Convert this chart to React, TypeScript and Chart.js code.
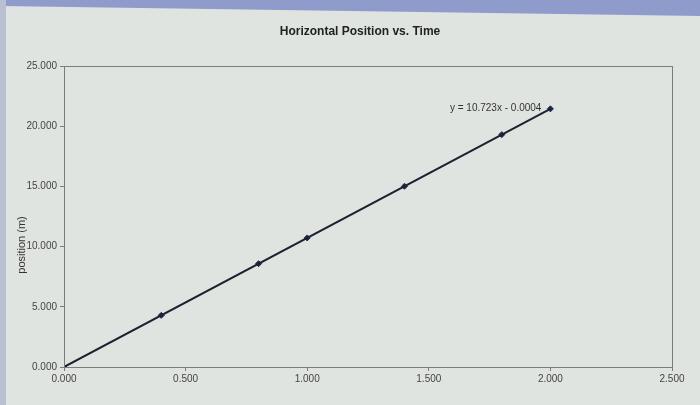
import React, { useEffect, useRef } from "react";
import { Chart, registerables } from "chart.js";

Chart.register(...registerables);

const timeValues = [0, 0.4, 0.8, 1.0, 1.4, 1.8, 2.0];
const positionValues = [0, 4.29, 8.58, 10.72, 15.01, 19.3, 21.44];
const trendSlope = 10.723;
const trendIntercept = -0.0004;
const trendLabel = "y = 10.723x - 0.0004";
const chartTitle = "Horizontal Position vs. Time";
const yAxisTitle = "position (m)";

const FONT = "'Liberation Sans', Arial, sans-serif";

const bgPlugin = {
  id: "bgPlugin",
  beforeDraw(chart: any) {
    const { ctx, width, height } = chart;
    ctx.save();
    ctx.fillStyle = "#e0e4e1";
    ctx.fillRect(0, 0, width, height);
    ctx.fillStyle = "#8f9ccb";
    ctx.beginPath();
    ctx.moveTo(0, 0);
    ctx.lineTo(width, 0);
    ctx.lineTo(width, 16);
    ctx.lineTo(0, 6);
    ctx.closePath();
    ctx.fill();
    ctx.fillStyle = "#b9c0d2";
    ctx.fillRect(0, 0, 6, height);
    ctx.restore();
  },
  afterDraw(chart: any) {
    const { ctx, chartArea, scales } = chart;
    ctx.save();
    ctx.strokeStyle = "#7a7d7d";
    ctx.lineWidth = 1;
    ctx.strokeRect(chartArea.left + 0.5, chartArea.top + 0.5, chartArea.right - chartArea.left, chartArea.bottom - chartArea.top);

    // title
    ctx.fillStyle = "#222";
    ctx.font = `bold 12px ${FONT}`;
    ctx.textAlign = "center";
    ctx.textBaseline = "middle";
    ctx.fillText(chartTitle, 360, 32);

    // y axis title
    ctx.save();
    ctx.translate(22, 245);
    ctx.rotate(-Math.PI / 2);
    ctx.fillStyle = "#333";
    ctx.font = `11px ${FONT}`;
    ctx.fillText(yAxisTitle, 0, 0);
    ctx.restore();

    // trendline equation
    const xEnd = timeValues[timeValues.length - 1];
    const px = scales.x.getPixelForValue(xEnd);
    const py = scales.y.getPixelForValue(trendSlope * xEnd + trendIntercept);
    ctx.fillStyle = "#333";
    ctx.font = `10px ${FONT}`;
    ctx.textAlign = "right";
    ctx.textBaseline = "middle";
    ctx.fillText(trendLabel, px - 9, py - 1);
    ctx.restore();
  },
};

export default function App() {
  const ref = useRef<HTMLCanvasElement | null>(null);
  useEffect(() => {
    if (!ref.current) return;
    const xEnd = timeValues[timeValues.length - 1];
    const chart = new Chart(ref.current, {
      type: "scatter",
      data: {
        datasets: [
          {
            label: "trend",
            data: [
              { x: 0, y: trendIntercept },
              { x: xEnd, y: trendSlope * xEnd + trendIntercept },
            ],
            showLine: true,
            borderColor: "#1d2230",
            borderWidth: 2,
            pointRadius: 0,
          },
          {
            label: "position",
            data: timeValues.map((t, i) => ({ x: t, y: positionValues[i] })),
            showLine: false,
            pointStyle: "rectRot",
            pointRadius: 3,
            backgroundColor: "#1b2a4a",
            borderColor: "#1b2a4a",
          },
        ],
      },
      options: {
        responsive: false,
        animation: false,
        layout: { padding: { left: 0, right: 28, top: 66, bottom: 0 } },
        plugins: {
          legend: { display: false },
          tooltip: { enabled: false },
          title: { display: false },
        },
        scales: {
          x: {
            type: "linear",
            min: 0,
            max: 2.5,
            ticks: {
              stepSize: 0.5,
              color: "#444",
              font: { family: FONT, size: 10 },
              padding: 2,
              callback: (v: any) => Number(v).toFixed(3),
            },
            grid: { display: true, drawOnChartArea: false, tickLength: 4, color: "#7a7d7d" },
            border: { color: "#7a7d7d" },
            afterFit: (s: any) => { s.height = 38; },
          },
          y: {
            type: "linear",
            min: 0,
            max: 25,
            ticks: {
              stepSize: 5,
              color: "#444",
              font: { family: FONT, size: 10 },
              padding: 3,
              callback: (v: any) => Number(v).toFixed(3),
            },
            grid: { display: true, drawOnChartArea: false, tickLength: 4, color: "#7a7d7d" },
            border: { color: "#7a7d7d" },
            afterFit: (s: any) => { s.width = 64; },
          },
        },
      },
      plugins: [bgPlugin],
    } as any);
    return () => chart.destroy();
  }, []);
  return (
    <div style={{ position: "fixed", left: 0, top: 0, width: 700, height: 405 }}>
      <canvas ref={ref} width={700} height={405} style={{ width: 700, height: 405, display: "block" }} />
    </div>
  );
}
